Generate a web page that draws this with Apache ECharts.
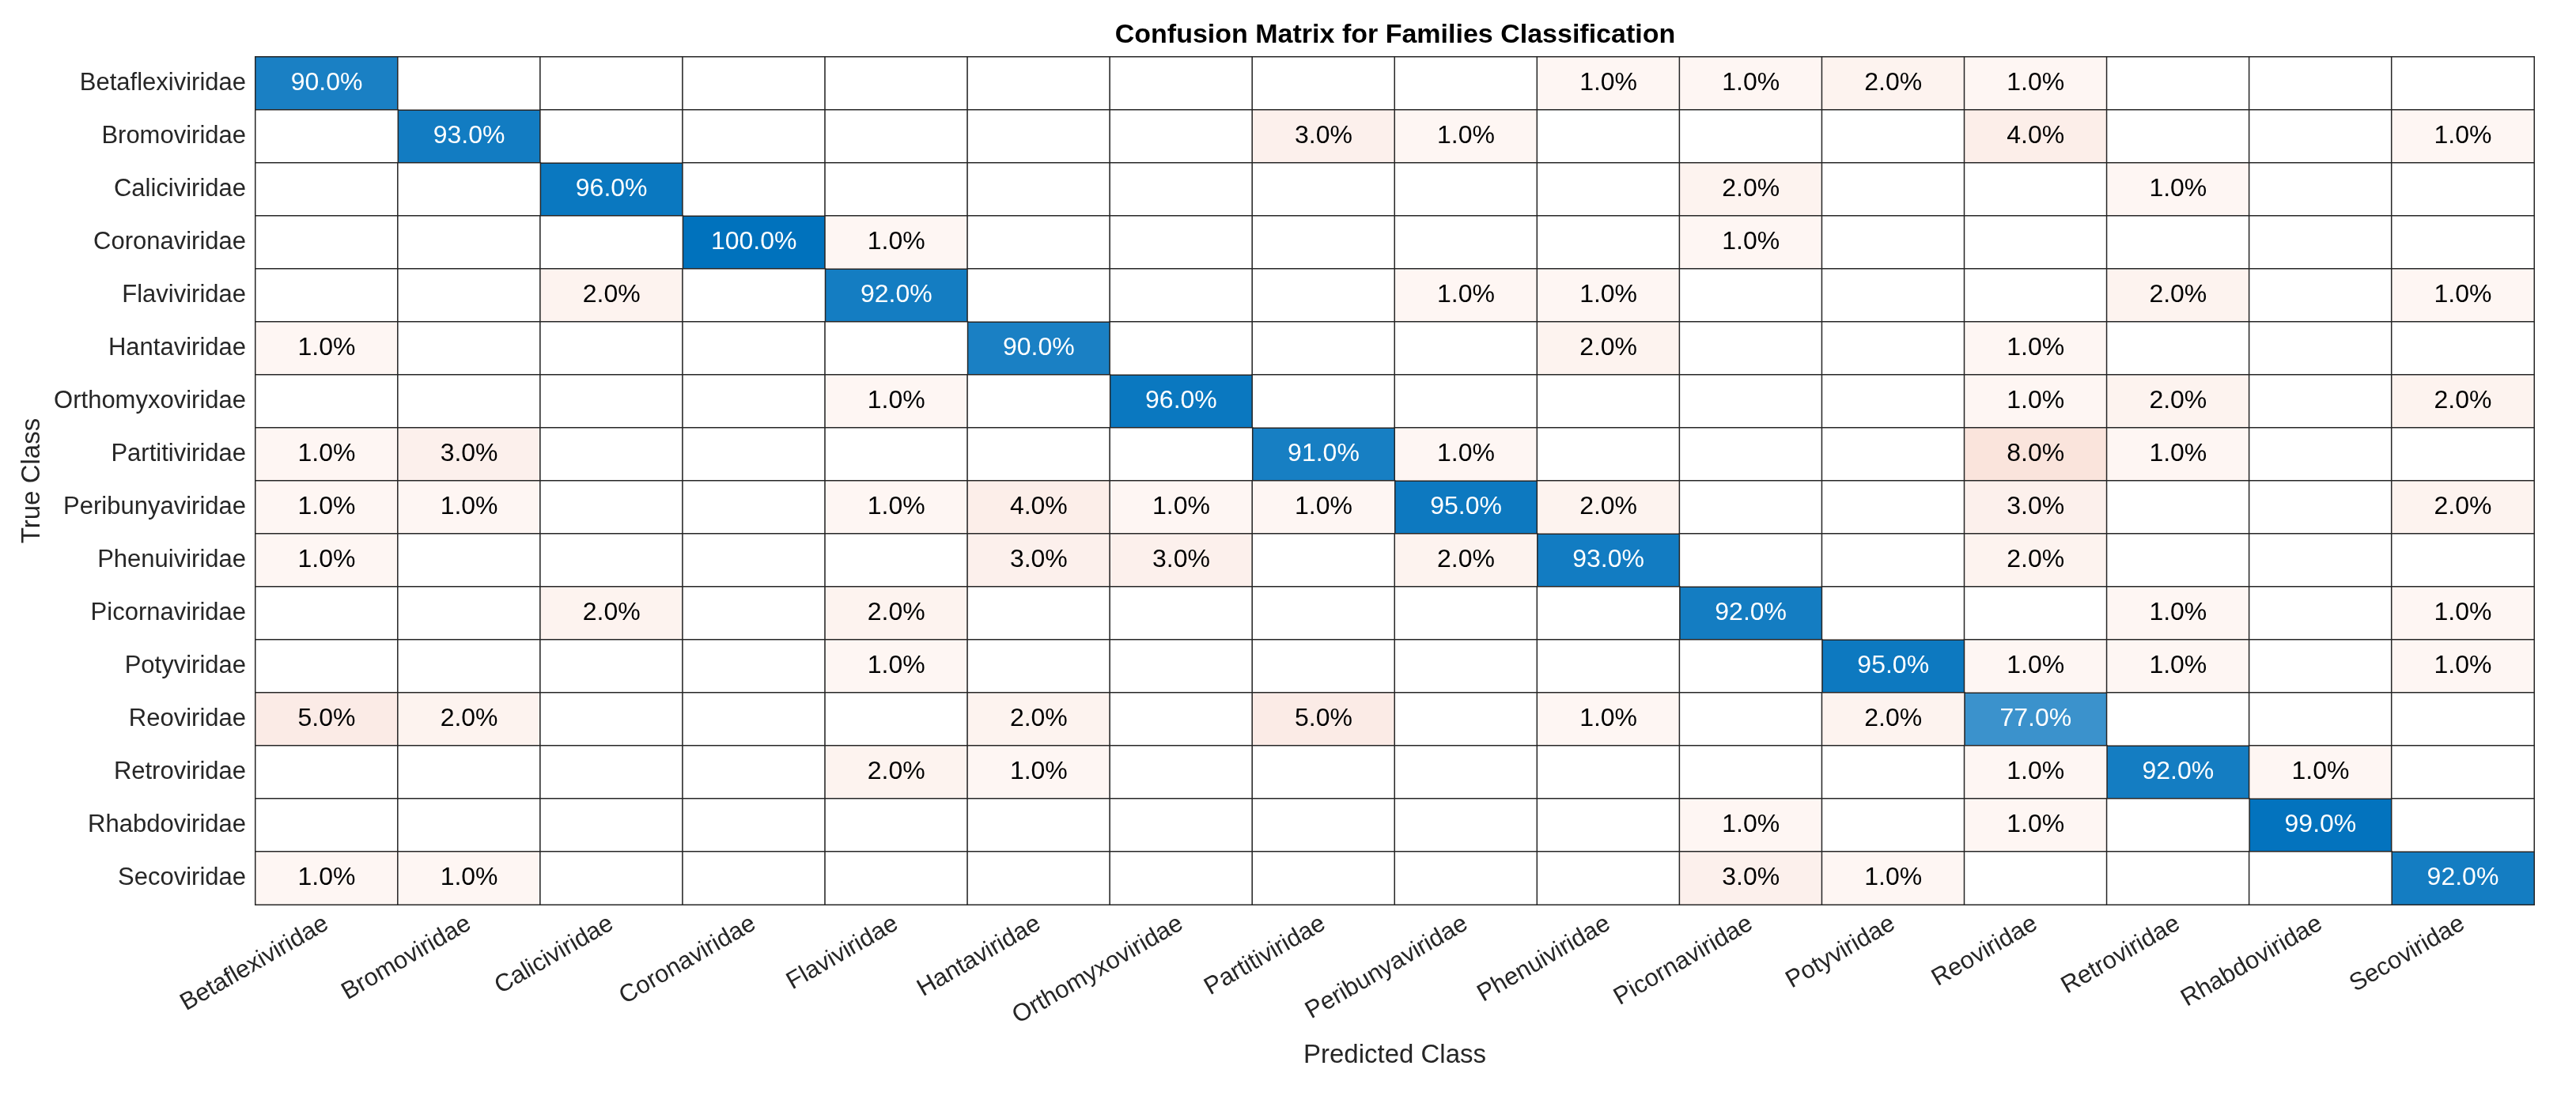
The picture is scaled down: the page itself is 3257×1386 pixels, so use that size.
<!DOCTYPE html>
<html>
<head>
<meta charset="utf-8">
<script src="https://cdn.jsdelivr.net/npm/echarts@6/dist/echarts.min.js"></script>
<style>
html,body{margin:0;padding:0;background:#fff;}
#chart{width:3257px;height:1386px;}
</style>
</head>
<body>
<div id="chart"></div>
<script>
const classes = ['Betaflexiviridae','Bromoviridae','Caliciviridae','Coronaviridae','Flaviviridae','Hantaviridae','Orthomyxoviridae','Partitiviridae','Peribunyaviridae','Phenuiviridae','Picornaviridae','Potyviridae','Reoviridae','Retroviridae','Rhabdoviridae','Secoviridae'];

// rows = true class, columns = predicted class (percent)
const matrix = [
  [90,0,0,0,0,0,0,0,0,1,1,2,1,0,0,0],
  [0,93,0,0,0,0,0,3,1,0,0,0,4,0,0,1],
  [0,0,96,0,0,0,0,0,0,0,2,0,0,1,0,0],
  [0,0,0,100,1,0,0,0,0,0,1,0,0,0,0,0],
  [0,0,2,0,92,0,0,0,1,1,0,0,0,2,0,1],
  [1,0,0,0,0,90,0,0,0,2,0,0,1,0,0,0],
  [0,0,0,0,1,0,96,0,0,0,0,0,1,2,0,2],
  [1,3,0,0,0,0,0,91,1,0,0,0,8,1,0,0],
  [1,1,0,0,1,4,1,1,95,2,0,0,3,0,0,2],
  [1,0,0,0,0,3,3,0,2,93,0,0,2,0,0,0],
  [0,0,2,0,2,0,0,0,0,0,92,0,0,1,0,1],
  [0,0,0,0,1,0,0,0,0,0,0,95,1,1,0,1],
  [5,2,0,0,0,2,0,5,0,1,0,2,77,0,0,0],
  [0,0,0,0,2,1,0,0,0,0,0,0,1,92,1,0],
  [0,0,0,0,0,0,0,0,0,0,1,0,1,0,99,0],
  [1,1,0,0,0,0,0,0,0,0,3,1,0,0,0,92]
];

const diagData = [];
const offData = [];
matrix.forEach((row, r) => {
  row.forEach((v, c) => {
    if (r === c) diagData.push([c, r, v]);
    else offData.push([c, r, v]);
  });
});

const offColors = ['#ffffff','#fef6f3','#fdf3ef','#fcf0ec','#fceee9','#fbebe6','#fae8e2','#fae6df','#fae4dc'];

const chart = echarts.init(document.getElementById('chart'));
const font = 'Liberation Sans, Arial, Helvetica, sans-serif';
const labelFmt = p => p.value[2] === 0 ? '' : p.value[2].toFixed(1) + '%';

chart.setOption({
  backgroundColor: '#ffffff',
  animation: false,
  textStyle: { fontFamily: font },
  title: {
    text: 'Confusion Matrix for Families Classification',
    left: 1759, top: 23, textAlign: 'center',
    textStyle: { fontSize: 34, fontWeight: 'bold', color: '#000', fontFamily: font }
  },
  grid: { left: 323, top: 72, width: 2881, height: 1072 },
  xAxis: {
    type: 'category', data: classes,
    name: 'Predicted Class', nameLocation: 'middle', nameGap: 174,
    nameTextStyle: { fontSize: 33, color: '#262626', fontFamily: font },
    axisLine: { show: false }, axisTick: { show: false }, splitLine: { show: false },
    axisLabel: { rotate: 30, interval: 0, fontSize: 31, color: '#262626', margin: 22, fontFamily: font }
  },
  yAxis: {
    type: 'category', data: classes, inverse: true,
    name: 'True Class', nameLocation: 'middle', nameGap: 263,
    nameTextStyle: { fontSize: 33, color: '#262626', fontFamily: font },
    axisLine: { show: false }, axisTick: { show: false }, splitLine: { show: false },
    axisLabel: { interval: 0, fontSize: 31, color: '#262626', margin: 12, fontFamily: font }
  },
  visualMap: [
    { type: 'continuous', show: false, seriesIndex: 0, dimension: 2, min: 0, max: 100,
      inRange: { color: ['#ffffff', '#0072bd'] } },
    { type: 'continuous', show: false, seriesIndex: 1, dimension: 2, min: 0, max: 8,
      inRange: { color: offColors } }
  ],
  series: [
    {
      type: 'heatmap', data: diagData,
      itemStyle: { borderColor: '#262626', borderWidth: 1.5 },
      label: { show: true, formatter: labelFmt, fontSize: 32, color: '#ffffff', fontFamily: font },
      emphasis: { disabled: true }
    },
    {
      type: 'heatmap', data: offData,
      itemStyle: { borderColor: '#262626', borderWidth: 1.5 },
      label: { show: true, formatter: labelFmt, fontSize: 32, color: '#000000', fontFamily: font },
      emphasis: { disabled: true }
    }
  ]
});
</script>
</body>
</html>
